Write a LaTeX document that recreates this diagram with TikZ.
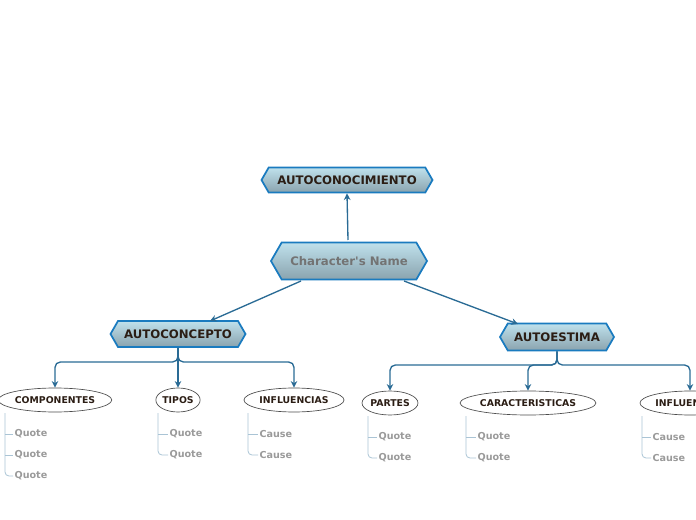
\documentclass[tikz,border=0pt]{standalone}
\usepackage{fontspec}
\setmainfont{DejaVu Sans}
\usetikzlibrary{shapes.symbols,shapes.geometric,arrows.meta}
\definecolor{ln}{HTML}{2A6B95}
\definecolor{bd}{HTML}{1A7BBF}
\definecolor{ft}{HTML}{BFE1EC}
\definecolor{fb}{HTML}{8AA3AE}
\definecolor{qt}{HTML}{9A9A9A}
\definecolor{ht}{HTML}{2B1D14}
\tikzset{
  hexa/.style={shape=signal, signal to=east and west, signal pointer angle=120, draw=bd, line width=1.3pt,
    top color=ft, bottom color=fb, font=\bfseries\fontsize{8.8}{10}\selectfont, text=ht, inner xsep=4pt},
  ell/.style={ellipse, draw=black!70, line width=0.5pt, fill=white, font=\bfseries\fontsize{7}{8}\selectfont, text=ht, inner sep=0pt, minimum height=18pt},
  conn/.style={draw=ln, line width=1pt, -{Stealth[length=5pt,width=5pt]}},
  tree/.style={draw=ln, line width=1pt, rounded corners=4pt, -{Stealth[length=5pt,width=5pt]}},
  sub/.style={draw=ln!40, line width=0.6pt, rounded corners=3pt},
  qtx/.style={font=\bfseries\fontsize{7.2}{8}\selectfont, text=qt, anchor=west, inner sep=1pt}
}
\begin{document}
\begin{tikzpicture}[x=0.75pt,y=-0.75pt]
\useasboundingbox (0,0) rectangle (696,520);
\clip (0,0) rectangle (696,520);
\node[hexa, minimum width=171*0.75pt, minimum height=25*0.75pt] (ak) at (347,180) {AUTOCONOCIMIENTO};
\node[hexa, minimum width=156*0.75pt, minimum height=37*0.75pt, text=black!55] (cn) at (349,261) {Character\textquotesingle s Name};
\node[hexa, minimum width=135*0.75pt, minimum height=26*0.75pt] (ac) at (178,334) {AUTOCONCEPTO};
\node[hexa, minimum width=114*0.75pt, minimum height=27*0.75pt] (ae) at (557,337) {AUTOESTIMA};
\coordinate (c1) at (348,240); \coordinate (c2) at (301,281); \coordinate (c3) at (404,281);
\coordinate (t2) at (210,321); \coordinate (t3) at (518,324);
\draw[conn] (c1) -- (ak.south);
\draw[conn] (c2) -- (t2);
\draw[conn] (c3) -- (t3);

\node[ell, minimum width=110*0.75pt] (co) at (55,400) {COMPONENTES};
\node[ell, minimum width=44*0.75pt] (ti) at (178,400) {TIPOS};
\node[ell, minimum width=100*0.75pt] (in) at (294,400) {INFLUENCIAS};
\node[ell, minimum width=56*0.75pt] (pa) at (390,403) {PARTES};
\node[ell, minimum width=132*0.75pt] (ca) at (528,403) {CARACTERISTICAS};
\node[ell, minimum width=100*0.75pt] (in2) at (690,403) {INFLUENCIAS};

\draw[tree] (ac.south) -- (178,362) -| (co.north);
\draw[tree] (ac.south) -- (ti.north);
\draw[tree] (ac.south) -- (178,362) -| (in.north);
\draw[tree] (ae.south) -- (557,365) -| (pa.north);
\draw[tree] (ae.south) -- (557,365) -| (ca.north);
\draw[tree] (ae.south) -- (557,365) -| (in2.north);

\draw[sub] (5,413) -- (5,476) -- (13,476);
\draw[sub] (5,434) -- (13,434); \draw[sub] (5,455) -- (13,455);
\node[qtx] (q1) at (13,434) {Quote}; \node[qtx] (q2) at (13,455) {Quote}; \node[qtx] (q3) at (13,476) {Quote};
\draw[sub] (158,413) -- (158,455) -- (168,455); \draw[sub] (158,434) -- (168,434);
\node[qtx] (q4) at (168,434) {Quote}; \node[qtx] (q5) at (168,455) {Quote};
\draw[sub] (248,413) -- (248,455) -- (258,455); \draw[sub] (248,434) -- (258,434);
\node[qtx] (q6) at (258,434) {Cause}; \node[qtx] (q7) at (258,455) {Cause};
\draw[sub] (368,416) -- (368,458) -- (377,458); \draw[sub] (368,437) -- (377,437);
\node[qtx] (q8) at (377,437) {Quote}; \node[qtx] (q9) at (377,458) {Quote};
\draw[sub] (466,416) -- (466,458) -- (476,458); \draw[sub] (466,437) -- (476,437);
\node[qtx] (q10) at (476,437) {Quote}; \node[qtx] (q11) at (476,458) {Quote};
\draw[sub] (642,416) -- (642,458) -- (651,458); \draw[sub] (642,437) -- (651,437);
\node[qtx] (q12) at (651,437) {Cause}; \node[qtx] (q13) at (651,458) {Cause};
\end{tikzpicture}
\end{document}
